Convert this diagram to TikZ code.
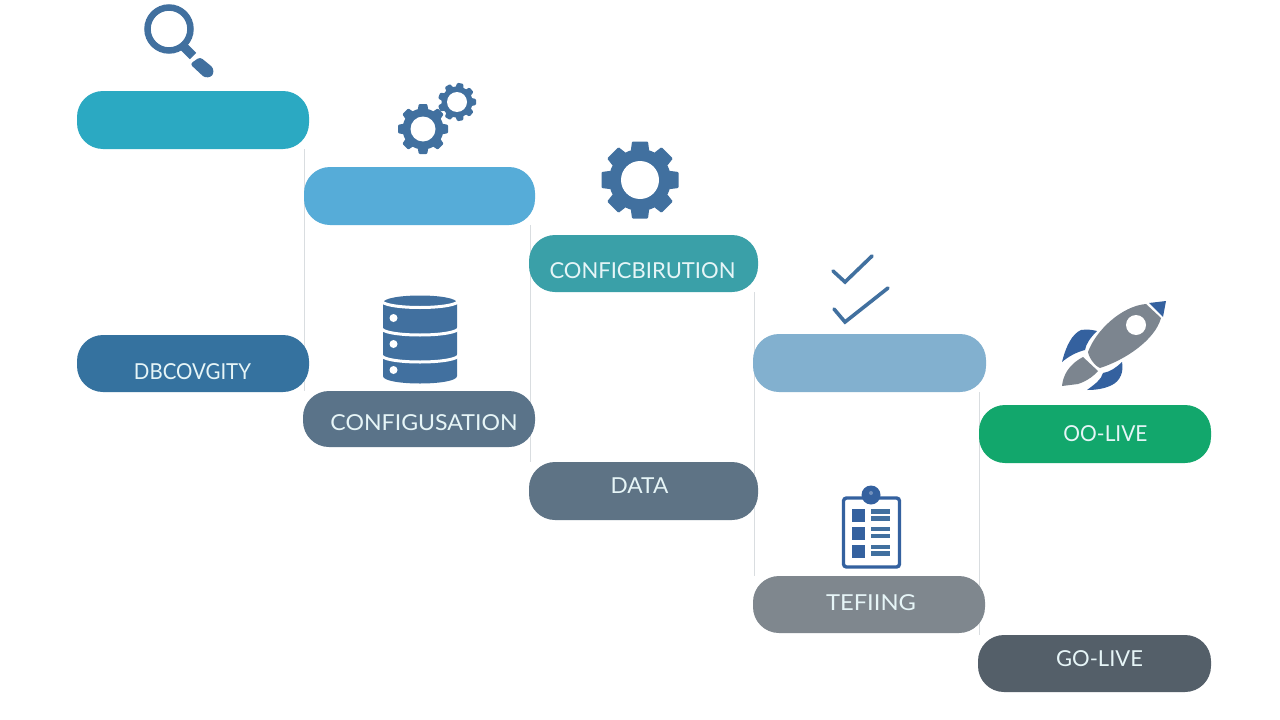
\documentclass[tikz,border=0pt]{standalone}
\usepackage{fontspec}
\usepackage{graphicx}
\setmainfont{Lato}
\usetikzlibrary{backgrounds}
\definecolor{iconblue}{HTML}{41709F}
\definecolor{deepblue}{HTML}{34619F}
\definecolor{rocketgray}{HTML}{7C858F}
\definecolor{conn}{HTML}{D9DDE0}
\definecolor{lbl}{HTML}{E6F5F7}
\tikzset{
  pill/.style={rectangle,rounded corners=26pt,inner sep=0pt,text=lbl,anchor=center,
    font=\fontsize{22}{24}\selectfont},
  link/.style={draw=conn,line width=1.2pt},
  chk/.style={draw=iconblue,line width=3.6pt,line cap=round,line join=miter}
}
% dx, dy: offset of the text's centre and baseline from the pill's centre; #3 horizontal scale
\newcommand\pilltxt[4]{\smash{\makebox[0pt]{\hspace*{#1}\raisebox{#2}{\scalebox{#3}[1]{#4}}}}}
% cx cy outer root hole toothcount halfwidth
\newcommand\gearicon[7]{%
  \begin{scope}[shift={(#1,#2)}]
    \fill[iconblue] (0,0) circle (#4pt);
    \pgfmathsetmacro\gstep{360/#6}
    \foreach \k in {1,...,#6}{
      \pgfmathsetmacro\ang{\k*\gstep}
      \fill[iconblue,rotate=\ang,rounded corners=1pt]
        (#4-2,-#7-1.2) -- (#3,-#7) -- (#3,#7) -- (#4-2,#7+1.2) -- cycle;
    }
    \fill[white] (0,0) circle (#5pt);
  \end{scope}}
\begin{document}
\begin{tikzpicture}[x=1pt,y=-1pt]
\useasboundingbox (0,0) rectangle (1280,720);

% pills
\node[pill,fill={rgb,255:red,43;green,169;blue,194},minimum width=232pt,minimum height=58pt] (t1) at (193,120) {};
\node[pill,fill={rgb,255:red,86;green,172;blue,216},minimum width=231pt,minimum height=58pt] (t2) at (419.5,196) {};
\node[pill,fill={rgb,255:red,58;green,160;blue,168},minimum width=229pt,minimum height=57pt] (t3) at (643.5,263.5) {\pilltxt{-2pt}{-14.5pt}{1}{CONFICBIRUTION}};
\node[pill,fill={rgb,255:red,130;green,176;blue,207},minimum width=233pt,minimum height=58pt] (t4) at (869.5,363) {};
\node[pill,fill={rgb,255:red,18;green,167;blue,108},minimum width=232pt,minimum height=58pt] (t5) at (1095,434) {\pilltxt{21pt}{-7pt}{0.95}{OO-LIVE}};
\node[pill,fill={rgb,255:red,53;green,114;blue,159},minimum width=232pt,minimum height=57pt] (b1) at (193,363.5) {\pilltxt{-1pt}{-15.5pt}{0.93}{DBCOVGITY}};
\node[pill,fill={rgb,255:red,90;green,115;blue,137},minimum width=232pt,minimum height=56pt] (b2) at (419,419) {\pilltxt{10pt}{-11pt}{1.05}{CONFIGUSATION}};
\node[pill,fill={rgb,255:red,94;green,115;blue,133},minimum width=229pt,minimum height=58pt] (b3) at (643.5,491) {\pilltxt{-8pt}{-2pt}{1.03}{DATA}};
\node[pill,fill={rgb,255:red,127;green,135;blue,142},minimum width=232pt,minimum height=57pt] (b4) at (869,604.5) {\pilltxt{4pt}{-6pt}{1.08}{TEFIING}};
\node[pill,fill={rgb,255:red,84;green,95;blue,105},minimum width=233pt,minimum height=57pt] (b5) at (1094.5,663.5) {\pilltxt{10pt}{-3pt}{1}{GO-LIVE}};

% connectors behind the pills
\begin{scope}[on background layer]
\fill[white] (0,0) rectangle (1280,720);
\draw[link] ([xshift=2pt]t1.south -| b2.west) -- ([xshift=2pt]b2.north west);
\draw[link] ([xshift=2pt]t2.south -| b3.west) -- ([xshift=2pt]b3.north west);
\draw[link] ([xshift=2pt]t3.south -| b4.west) -- ([xshift=2pt]b4.north west);
\draw[link] ([xshift=1.5pt]t4.south -| b5.west) -- ([xshift=1.5pt]b5.north west);
\end{scope}

% magnifier
\draw[iconblue,line width=6.5pt] (169,29) circle (21.5pt);
\draw[iconblue,line width=9pt] (183,46) -- (193,56);
\fill[iconblue,rounded corners=3pt] (190,64) -- (200,57) -- (213.5,68) -- (213,76) -- (205,78) -- cycle;

% gears
\gearicon{423}{129}{25}{20.5}{12.5}{8}{4.2}
\gearicon{457}{102}{19}{15.5}{10}{9}{3}
\gearicon{640}{180}{38.5}{31}{19}{8}{8}

% database
\fill[iconblue] (383,303) .. controls (383,293) and (457,293) .. (457,303) -- (457,376)
  .. controls (457,386) and (383,386) .. (383,376) -- cycle;
\foreach \yy in {300,327.5,354.5}{
  \draw[white,line width=3pt] (381,\yy) .. controls (381,\yy+10) and (459,\yy+10) .. (459,\yy);
}
\fill[white] (393.5,318) circle (4pt) (393.5,344) circle (4pt) (393.5,370) circle (4pt);

% check marks
\draw[chk] (833,271) -- (845,282) -- (872,256);
\draw[chk] (834,309) -- (845,322) -- (888,288);

% clipboard
\draw[deepblue,line width=3.4pt,rounded corners=3pt] (843.5,498) rectangle (899.5,567);
\fill[deepblue] (871,495) circle (9.5pt);
\fill[deepblue!70!white] (871,493) circle (2pt);
\foreach \yy/\la/\lb in {509/511.5/518.5,527/529/536,545/547/553.5}{
  \fill[deepblue] (852,\yy) rectangle ++(13,12.5);
  \draw[iconblue,line width=4.4pt] (871,\la) -- (890,\la);
  \draw[iconblue,line width=4.4pt] (871,\lb) -- (890,\lb);
}

% rocket
\fill[deepblue] (1062,362) .. controls (1066,346) and (1072,334) .. (1081,330) .. controls (1087,329) and (1093,330) .. (1097,331) .. controls (1090,338) and (1086,344) .. (1085,350) .. controls (1077,352) and (1069,356) .. cycle;
\fill[deepblue] (1087,390) .. controls (1095,384) and (1101,380) .. (1103,373) .. controls (1110,372) and (1117,367) .. (1122,362) .. controls (1124,372) and (1120,381) .. (1112,385) .. controls (1104,389) and (1095,390) .. cycle;
\fill[rocketgray] (1062,386) .. controls (1063,376) and (1068,365) .. (1083,357) -- (1098,371) .. controls (1092,378) and (1084,382) .. (1078,384) -- cycle;
\fill[rocketgray] (1146,304) .. controls (1122,306) and (1096,330) .. (1088,352) .. controls (1089,358) and (1095,366) .. (1100,368) .. controls (1125,360) and (1155,340) .. (1161,318) -- cycle;
\fill[white] (1136,325) circle (10pt);
\fill[deepblue] (1149,303) -- (1166,301) -- (1163,317) -- cycle;
\end{tikzpicture}
\end{document}
